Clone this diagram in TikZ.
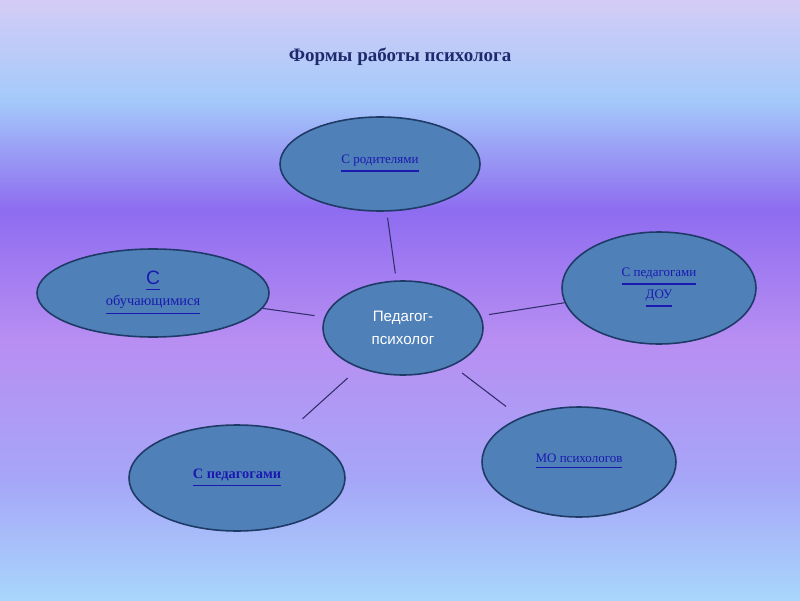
\documentclass[tikz,border=0pt]{standalone}
\usepackage{fontspec}
\setmainfont{Liberation Serif}
\newfontfamily\labelsans{Liberation Sans}
\usetikzlibrary{shapes.geometric}
\definecolor{bgF}{HTML}{D4CCF6}
\definecolor{bgE}{HTML}{A4CAFA}
\definecolor{bgA}{HTML}{8E6CF0}
\definecolor{bgB}{HTML}{B88EF2}
\definecolor{bgC}{HTML}{A6A6F8}
\definecolor{bgD}{HTML}{A8D6FB}
\definecolor{ovalfill}{HTML}{4F80B8}
\definecolor{ovalline}{HTML}{1E3A66}
\definecolor{linkblue}{HTML}{1A1AB0}
\definecolor{titlenavy}{HTML}{1F2A6E}
\pgfdeclareverticalshading{slidebg}{100bp}{
  color(0bp)=(bgD); color(25bp)=(bgD); color(35bp)=(bgC); color(46.7bp)=(bgB);
  color(57.5bp)=(bgA); color(66.7bp)=(bgE); color(75bp)=(bgF); color(100bp)=(bgF)}
\tikzset{
  oval/.style={ellipse, draw=ovalline, line width=0.45pt, fill=ovalfill, inner sep=0pt, align=center},
  link/.style={text=linkblue, font=\fontsize{3.7}{4.4}\selectfont},
  spoke/.style={draw=ovalline!80!violet, line width=0.3pt}
}
\newcommand{\lnk}[1]{\underline{#1}}
\begin{document}
\begin{tikzpicture}
  % background
  \shade[shading=slidebg] (0,0) rectangle (8,6);
  \useasboundingbox (0,0) rectangle (8,6);
  % title
  \node (title) at (4,5.43) [text=titlenavy, font=\bfseries\fontsize{5.4}{6.5}\selectfont] {Формы работы психолога};
  % ovals
  \node (centre) at (4.03,2.72) [oval, minimum width=1.6cm, minimum height=0.94cm, text=white, font=\labelsans\fontsize{4.3}{6.4}\selectfont] {Педагог-\\психолог};
  \node (parents) at (3.80,4.36) [oval, minimum width=2.0cm, minimum height=0.94cm, link] {\lnk{С родителями}};
  \node (pupils) at (1.53,3.07) [oval, minimum width=2.32cm, minimum height=0.88cm, link, font=\fontsize{4.1}{6}\selectfont] {{\labelsans\fontsize{5.5}{6.5}\selectfont\lnk{С}}\\\lnk{обучающимися}};
  \node (dou) at (6.59,3.12) [oval, minimum width=1.94cm, minimum height=1.12cm, link] {\lnk{С педагогами}\\\lnk{ДОУ}};
  \node (teachers) at (2.37,1.22) [oval, minimum width=2.16cm, minimum height=1.06cm, link, font=\bfseries\fontsize{4.1}{5}\selectfont] {\lnk{С педагогами}};
  \node (mo) at (5.79,1.38) [oval, minimum width=1.94cm, minimum height=1.10cm, link] {\lnk{МО психологов}};
  % spokes
  \draw[spoke, shorten <=0.06cm, shorten >=0.07cm] (parents) -- (centre);
  \draw[spoke, shorten <=0.0cm, shorten >=0.1cm] (pupils) -- (centre);
  \draw[spoke, shorten <=0.08cm, shorten >=0.0cm] (centre) -- (dou);
  \draw[spoke, shorten <=0.15cm, shorten >=0.18cm] (centre) -- (teachers);
  \draw[spoke, shorten <=0.12cm, shorten >=0.18cm] (centre) -- (mo);
\end{tikzpicture}
\end{document}
